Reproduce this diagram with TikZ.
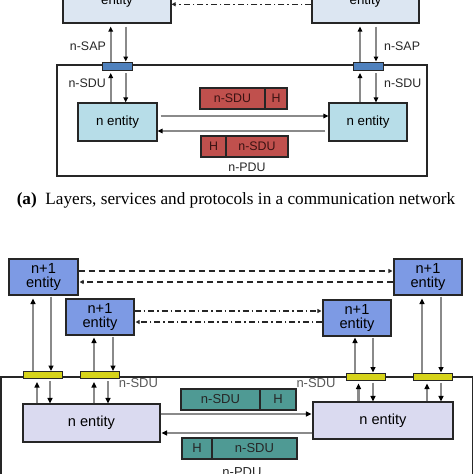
\documentclass[tikz,border=0pt]{standalone}
\usepackage{fontspec}
\setmainfont{Liberation Serif}
\newfontfamily\arial{Liberation Sans}
\usetikzlibrary{arrows.meta}
\definecolor{lineblk}{HTML}{262626}
\definecolor{entU}{HTML}{DCE6F2}
\definecolor{entC}{HTML}{B7DDE8}
\definecolor{sapB}{HTML}{4F81BD}
\definecolor{redB}{HTML}{C0504D}
\definecolor{redT}{HTML}{3A1212}
\definecolor{blueN}{HTML}{7D9AE4}
\definecolor{yelB}{HTML}{D6D31A}
\definecolor{lavB}{HTML}{DADAF0}
\definecolor{tealB}{HTML}{4F9A94}
\definecolor{arrG}{HTML}{8A8A8A}
\begin{document}
\begin{tikzpicture}[x=1pt,y=-1pt,
  box/.style={draw=lineblk,line width=1.1pt,inner sep=0pt,align=center},
  ftop/.style={font=\arial\fontsize{13.3}{14}\selectfont},
  fbot/.style={font=\arial\fontsize{14.6}{14.2}\selectfont},
  fsm/.style={font=\arial\fontsize{12.4}{14}\selectfont},
  fmd/.style={font=\arial\fontsize{13}{14}\selectfont},
  garr/.style={draw=arrG,line width=2pt,-{Triangle[color=black,length=5pt,width=4.5pt]}},
  garrB/.style={draw=arrG,line width=2.6pt,-{Triangle[color=black,length=5.5pt,width=5pt]}},
  dsh/.style={draw=lineblk,line width=1.3pt,dash pattern=on 6pt off 4pt,-{Triangle[length=4pt,width=4pt]}},
  ddot/.style={draw=lineblk,line width=1.3pt,dash pattern=on 6pt off 3pt on 1.5pt off 3pt,-{Triangle[length=4pt,width=4pt]}},
  lbl/.style={inner sep=0pt,text=lineblk}
]
\useasboundingbox (0,0) rectangle (474,474);
\clip (0,0) rectangle (474,474);

% ================= (a) =================
\node[box,fill=entU,ftop,minimum width=108pt,minimum height=44pt] (E1) at (117,1) {entity};
\node[box,fill=entU,ftop,minimum width=107pt,minimum height=44pt] (E2) at (365.5,1) {entity};
\coordinate (yt) at (0,4.3);
\draw[ddot] (E2.west |- yt) -- (E1.east |- yt);

\node[box,line width=1.2pt,minimum width=370pt,minimum height=111pt] (layerA) at (242,120.5) {};
\node[box,fill=sapB,line width=1pt,minimum width=30pt,minimum height=8pt] (sapL) at (117.7,66) {};
\node[box,fill=sapB,line width=1pt,minimum width=30pt,minimum height=8pt] (sapR) at (368,66) {};

\node[box,fill=entC,ftop,minimum width=79pt,minimum height=38pt] (nE1) at (117.5,122) {n entity};
\node[box,fill=entC,ftop,minimum width=78pt,minimum height=38pt] (nE2) at (368,122) {n entity};

\coordinate (aL1) at (110.7,0);
\coordinate (aL2) at (125.7,0);
\coordinate (aR1) at (360,0);
\coordinate (aR2) at (376,0);
\draw[garr,shorten >=3pt] (sapL.north -| aL1) -- (E1.south -| aL1);
\draw[garr,shorten <=3pt] (E1.south -| aL2) -- (sapL.north -| aL2);
\draw[garr,shorten >=2.5pt] (nE1.north -| aL1) -- (sapL.south -| aL1);
\draw[garr,shorten <=2.5pt] (sapL.south -| aL2) -- (nE1.north -| aL2);
\draw[garr,shorten >=3pt] (sapR.north -| aR1) -- (E2.south -| aR1);
\draw[garr,shorten <=3pt] (E2.south -| aR2) -- (sapR.north -| aR2);
\draw[garr,shorten >=2.5pt] (nE2.north -| aR1) -- (sapR.south -| aR1);
\draw[garr,shorten <=2.5pt] (sapR.south -| aR2) -- (nE2.north -| aR2);

\node[lbl,fsm,anchor=east] (sapLbl1) at (106,46) {n-SAP};
\node[lbl,fsm,anchor=east] (sduLbl1) at (106,83) {n-SDU};
\node[lbl,fsm,anchor=west] (sapLbl2) at (384,46) {n-SAP};
\node[lbl,fsm,anchor=west] (sduLbl2) at (384,83) {n-SDU};

\coordinate (h1) at (0,116);
\coordinate (h2) at (0,131);
\draw[garr,shorten <=3pt] (nE1.east |- h1) -- (nE2.west |- h1);
\draw[garr,shorten <=3pt] (nE2.west |- h2) -- (nE1.east |- h2);

\node[box,fill=redB,fsm,text=redT,minimum width=65pt,minimum height=21pt] (rA1) at (232.5,98.5) {n-SDU};
\node[box,fill=redB,fsm,text=redT,minimum width=22pt,minimum height=21pt] (rA2) at (276,98.5) {H};
\node[box,fill=redB,fsm,text=redT,minimum width=25pt,minimum height=21pt] (rB1) at (213.5,146.5) {H};
\node[box,fill=redB,fsm,text=redT,minimum width=62pt,minimum height=21pt] (rB2) at (257,146.5) {n-SDU};
\node[lbl,fsm] (pduA) at (247,167) {n-PDU};

\node[inner sep=0pt,font=\fontsize{17.2}{19}\selectfont] (capA) at (236,200) {\textbf{(a)}\ \ Layers, services and protocols in a communication network};

% ================= (b) =================
\node[box,fill=blueN,fbot,minimum width=69pt,minimum height=36pt] (N1a) at (43.5,277) {n+1\\entity};
\node[box,fill=blueN,fbot,minimum width=68pt,minimum height=36pt] (N1b) at (428,277) {n+1\\entity};
\node[box,fill=blueN,fbot,minimum width=68pt,minimum height=36pt] (N2a) at (100,317) {n+1\\entity};
\node[box,fill=blueN,fbot,minimum width=68pt,minimum height=36pt] (N2b) at (357,318) {n+1\\entity};

\coordinate (d1) at (0,271);
\coordinate (d2) at (0,282);
\coordinate (d3) at (0,311);
\coordinate (d4) at (0,322);
\draw[dsh,shorten >=1pt] (N1a.east |- d1) -- (N1b.west |- d1);
\draw[dsh,shorten >=1pt] (N1b.west |- d2) -- (N1a.east |- d2);
\draw[ddot,shorten >=1pt] (N2a.east |- d3) -- (N2b.west |- d3);
\draw[ddot,shorten >=1pt] (N2b.west |- d4) -- (N2a.east |- d4);

\draw[draw=lineblk,line width=1.5pt] (1,520) -- (1,377) -- (472.5,377) -- (472.5,520);

\node[box,fill=yelB,line width=1pt,minimum width=39pt,minimum height=7pt] (Y1) at (42.5,375) {};
\node[box,fill=yelB,line width=1pt,minimum width=39pt,minimum height=7pt] (Y2) at (99.5,375) {};
\node[box,fill=yelB,line width=1pt,minimum width=39pt,minimum height=7pt] (Y3) at (365.5,376.5) {};
\node[box,fill=yelB,line width=1pt,minimum width=39pt,minimum height=7pt] (Y4) at (432.5,376.5) {};

\node[box,fill=lavB,fbot,minimum width=137pt,minimum height=38pt] (nB1) at (91.5,423) {n entity};
\node[box,fill=lavB,fbot,minimum width=140pt,minimum height=37pt] (nB2) at (383,420.5) {n entity};

% arrows above the bars
\coordinate (u1) at (33,0);   \coordinate (v1) at (51,0);
\coordinate (u2) at (94,0);   \coordinate (v2) at (113,0);
\coordinate (u3) at (355,0);  \coordinate (v3) at (373,0);
\coordinate (u4) at (422,0);  \coordinate (v4) at (441,0);
\draw[garrB,shorten >=3pt] (Y1.north -| u1) -- (N1a.south -| u1);
\draw[garrB,shorten <=1pt] (N1a.south -| v1) -- (Y1.north -| v1);
\draw[garrB,shorten >=2pt] (Y2.north -| u2) -- (N2a.south -| u2);
\draw[garrB,shorten <=1pt] (N2a.south -| v2) -- (Y2.north -| v2);
\draw[garrB,shorten >=1pt] (Y3.north -| u3) -- (N2b.south -| u3);
\draw[garrB,shorten <=1pt] (N2b.south -| v3) -- (Y3.north -| v3);
\draw[garrB,shorten >=3pt] (Y4.north -| u4) -- (N1b.south -| u4);
\draw[garrB,shorten <=1pt] (N1b.south -| v4) -- (Y4.north -| v4);

% arrows below the bars
\coordinate (p1) at (37,0);   \coordinate (q1) at (50,0);
\coordinate (p2) at (94,0);   \coordinate (q2) at (108,0);
\coordinate (p3) at (358.5,0);\coordinate (q3) at (373,0);
\coordinate (p4) at (427,0);  \coordinate (q4) at (441,0);
\draw[garrB,shorten >=3pt] (nB1.north -| p1) -- (Y1.south -| p1);
\draw[garrB,shorten <=2pt] (Y1.south -| q1) -- (nB1.north -| q1);
\draw[garrB,shorten >=3pt] (nB1.north -| p2) -- (Y2.south -| p2);
\draw[garrB,shorten <=2pt] (Y2.south -| q2) -- (nB1.north -| q2);
\draw[garrB,shorten >=3pt] (nB2.north -| p3) -- (Y3.south -| p3);
\draw[garrB,shorten <=2pt] (Y3.south -| q3) -- (nB2.north -| q3);
\draw[garrB,shorten >=3pt] (nB2.north -| p4) -- (Y4.south -| p4);
\draw[garrB,shorten <=2pt] (Y4.south -| q4) -- (nB2.north -| q4);

\node[lbl,fmd,text=black!65] (sduB1) at (138.5,383) {n-SDU};
\node[lbl,fmd,text=black!65] (sduB2) at (316,383) {n-SDU};

\node[box,fill=tealB,fmd,text=lineblk,minimum width=79pt,minimum height=21pt] (tA1) at (220.5,399.5) {n-SDU};
\node[box,fill=tealB,fmd,text=lineblk,minimum width=36pt,minimum height=21pt] (tA2) at (278,399.5) {H};
\node[box,fill=tealB,fmd,text=lineblk,minimum width=30pt,minimum height=21pt] (tB1) at (197,448.5) {H};
\node[box,fill=tealB,fmd,text=lineblk,minimum width=85pt,minimum height=21pt] (tB2) at (254.5,448.5) {n-SDU};

\coordinate (k1) at (0,414);
\coordinate (k2) at (0,433);
\draw[garrB,shorten >=1pt] (nB1.east |- k1) -- (nB2.west |- k1);
\draw[garrB,shorten >=1pt] (nB2.west |- k2) -- (nB1.east |- k2);

\node[lbl,fmd] (pduB) at (242,472) {n-PDU};
\end{tikzpicture}
\end{document}
